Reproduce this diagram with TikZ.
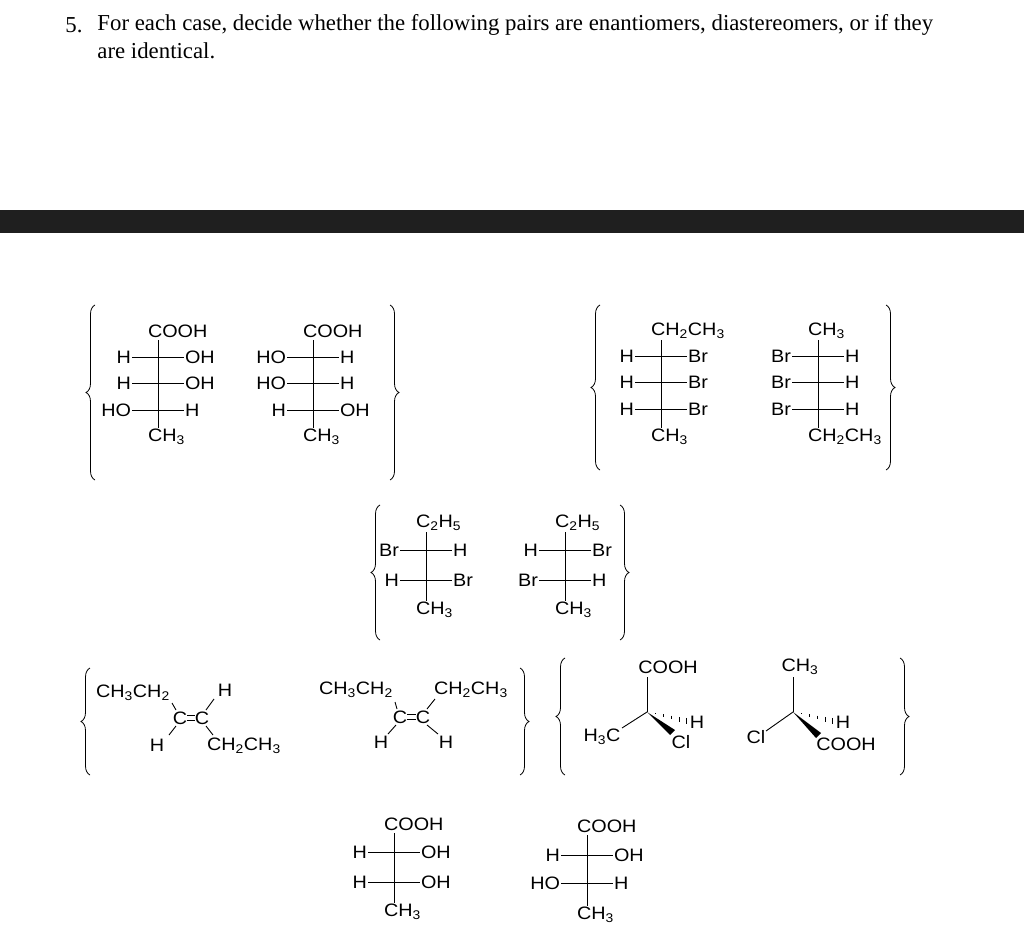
\documentclass[tikz,border=0pt]{standalone}
\usepackage{fontspec}
\setmainfont{Liberation Sans}
\newfontfamily\serif{Liberation Serif}
\usetikzlibrary{decorations.pathreplacing,calc}
\newcommand\sub[1]{\textsubscript{#1}}
\newcommand\fr[4]{\draw (#1-26,#2) -- (#1+26,#2);
 \node[lab,anchor=east] at (#1-26,#2) {#3};
 \node[lab,anchor=west] at (#1+26,#2) {#4};}
\newcommand\fv[5]{\draw (#1,#2+9) -- (#1,#3-9);
 \node[lab,anchor=west] at (#1-11,#2) {#4};
 \node[lab,anchor=west] at (#1-11,#3) {#5};}
\tikzset{lab/.style={inner sep=0.5pt,xscale=1.1,font=\fontsize{18}{18}\selectfont},
 brc/.style={decorate,decoration={brace,amplitude=9pt},line width=0.8pt}}
\begin{document}
\begin{tikzpicture}[x=1pt,y=-1pt,line width=0.9pt]
\useasboundingbox (0,0) rectangle (1024,941);
\fill[white] (0,0) rectangle (1024,941);
\tikzset{hd/.style={anchor=west,inner sep=0,font=\serif\fontsize{22.8}{23}\selectfont}}
\node[hd] at (65,25) {5.};
\node[hd] at (97,25) {For each case, decide whether the following pairs are enantiomers, diastereomers, or if they};
\node[hd] at (97,51) {are identical.};
\fill[black!88] (0,210) rectangle (1024,233);
% Fischer 1
\fv{158}{331}{437}{COOH}{CH\sub{3}}
\fr{158}{357}{H}{OH}\fr{158}{383}{H}{OH}\fr{158}{410}{HO}{H}
% Fischer 2
\fv{313}{331}{437}{COOH}{CH\sub{3}}
\fr{313}{357}{HO}{H}\fr{313}{383}{HO}{H}\fr{313}{410}{H}{OH}
% Fischer 3
\fv{661}{331}{437}{CH\sub{2}CH\sub{3}}{CH\sub{3}}
\fr{661}{356}{H}{Br}\fr{661}{382}{H}{Br}\fr{661}{409}{H}{Br}
% Fischer 4
\fv{818}{331}{437}{CH\sub{3}}{CH\sub{2}CH\sub{3}}
\fr{818}{356}{Br}{H}\fr{818}{382}{Br}{H}\fr{818}{409}{Br}{H}
% Fischer 5
\fv{426}{523}{610}{C\sub{2}H\sub{5}}{CH\sub{3}}
\fr{426}{550}{Br}{H}\fr{426}{580}{H}{Br}
% Fischer 6
\fv{565}{523}{610}{C\sub{2}H\sub{5}}{CH\sub{3}}
\fr{565}{550}{H}{Br}\fr{565}{580}{Br}{H}
% Fischer 7
\fv{394}{824}{912}{COOH}{CH\sub{3}}
\fr{394}{852}{H}{OH}\fr{394}{882}{H}{OH}
% Fischer 8
\fv{587}{826}{915}{COOH}{CH\sub{3}}
\fr{587}{855}{H}{OH}\fr{587}{883}{HO}{H}
% braces
\draw[brc] (95,480) -- (95,305);
\draw[brc] (390,305) -- (390,480);
\draw[brc] (600,470) -- (600,305);
\draw[brc] (886,305) -- (886,470);
\draw[brc] (380,640) -- (380,505);
\draw[brc] (620,505) -- (620,640);
\draw[brc] (90,775) -- (90,668);
\draw[brc] (520,668) -- (520,775);
\draw[brc] (565,775) -- (565,658);
\draw[brc] (900,658) -- (900,775);
% alkene 1
\node[lab,anchor=west] (a1) at (95,693) {CH\sub{3}CH\sub{2}};
\node[lab] (c1) at (180,718) {C};
\node[lab] (c2) at (202,718) {C};
\node[lab] (h1) at (225,690) {H};
\node[lab] (h2) at (157,745) {H};
\node[lab,anchor=west] (e1) at (206,746) {CH\sub{2}CH\sub{3}};
\draw (187,715.5) -- (195,715.5) (187,720) -- (195,720);
\draw (176,710) -- (172,703);
\draw (176,726) -- (169,735);
\draw (206,710) -- (214,699);
\draw (206,726) -- (213,735);
% alkene 2
\node[lab,anchor=west] (a2) at (318,690) {CH\sub{3}CH\sub{2}};
\node[lab,anchor=west] (e2) at (433,690) {CH\sub{2}CH\sub{3}};
\node[lab] (c3) at (400,717) {C};
\node[lab] (c4) at (423,717) {C};
\node[lab] (h3) at (381,742) {H};
\node[lab] (h4) at (446,742) {H};
\draw (407,714.5) -- (416,714.5) (407,719) -- (416,719);
\draw (397,709) -- (395,702);
\draw (396,725) -- (388,734);
\draw (427,709) -- (435,699);
\draw (427,725) -- (438,734);
% wedge 1
\coordinate (w1) at (647,712);
\node[lab] (t1) at (668,667) {COOH};
\node[lab] (m1) at (602,737) {H\sub{3}C};
\node[lab] (l1) at (681,742) {Cl};
\node[lab] (hh1) at (697,722) {H};
\draw (w1) -- (647,677);
\draw (w1) -- (622,728);
\fill (w1) -- (670,735) -- (675,730) -- cycle;
\foreach \t in {0.2,0.4,0.6,0.8,0.97}
 \draw[line width=1.1pt] ($(w1)!\t!(688,721) + (0,-3*\t)$) -- ($(w1)!\t!(688,721) + (0,3*\t)$);
% wedge 2
\coordinate (w2) at (793,712);
\node[lab] (t2) at (800,667) {CH\sub{3}};
\node[lab] (m2) at (756,737) {Cl};
\node[lab] (l2) at (846,744) {COOH};
\node[lab] (hh2) at (843,722) {H};
\draw (w2) -- (793,677);
\draw (w2) -- (766,731);
\fill (w2) -- (816,738) -- (821,733) -- cycle;
\foreach \t in {0.2,0.4,0.6,0.8,0.97}
 \draw[line width=1.1pt] ($(w2)!\t!(834,721) + (0,-3*\t)$) -- ($(w2)!\t!(834,721) + (0,3*\t)$);
\end{tikzpicture}
\end{document}
